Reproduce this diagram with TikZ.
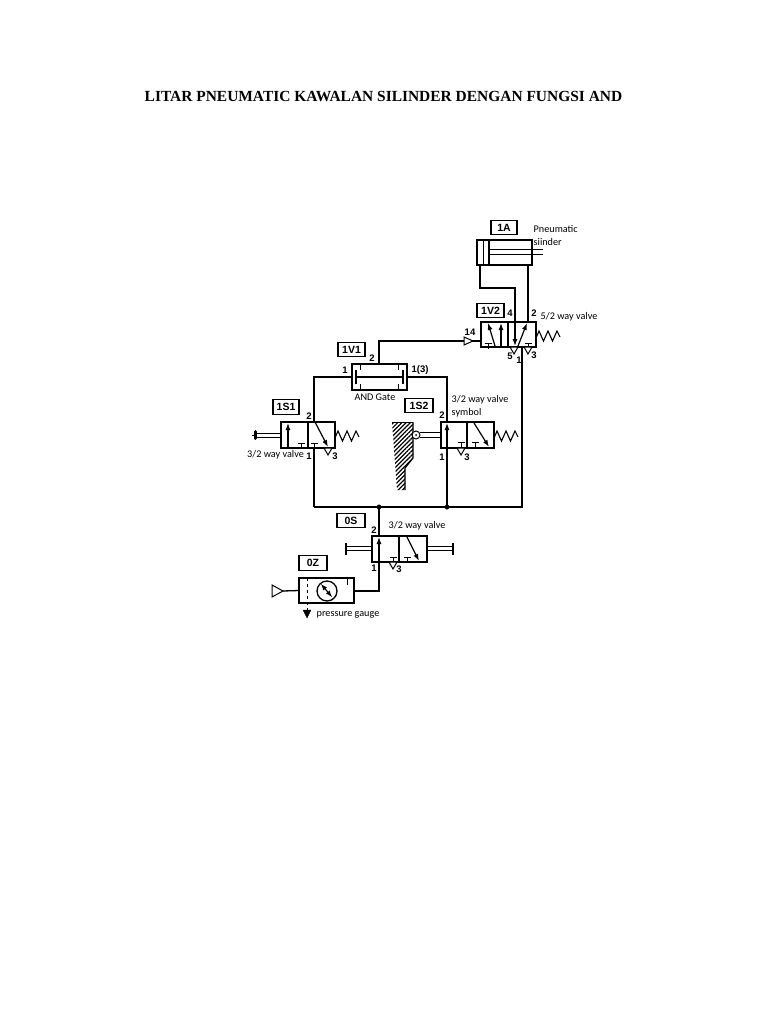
\documentclass[tikz,border=0pt]{standalone}
\usepackage{fontspec}
\setmainfont{Liberation Serif}
\newfontfamily\notefont{Carlito}
\newfontfamily\tagfont{Liberation Sans}
\usetikzlibrary{patterns.meta, arrows.meta}
\tikzset{wire/.style = {draw, line width=1.3pt}}
\tikzset{thinwire/.style = {draw, line width=1pt}}
\tikzset{flow/.style = {draw, line width=1.2pt, -{Latex[length=7pt,width=5pt]}}}
\tikzset{body/.style = {draw, line width=1.3pt, fill=white, inner sep=0pt, outer sep=0pt}}
\tikzset{tag/.style = {draw, line width=1.1pt, inner sep=0pt, minimum height=14.5pt, font=\tagfont\bfseries\fontsize{10.5}{11}\selectfont}}
\tikzset{num/.style = {inner sep=0pt, font=\tagfont\bfseries\fontsize{9.5}{10}\selectfont}}
\tikzset{note/.style = {inner sep=0pt, font=\notefont\fontsize{10.2}{11}\selectfont}}
\tikzset{joint/.style = {draw, circle, fill=black, inner sep=0pt, minimum size=4.5pt}}
\tikzset{tee/.pic = {\draw[line width=1pt] (-3.5,0) -- (3.5,0) (0,0) -- (0,5.5);}}
\tikzset{vent/.pic = {\draw[line width=1pt, fill=white] (-4,0) -- (4,0) -- (0,7) -- cycle;}}
\tikzset{spring/.pic = {\draw[line width=1.1pt] (0,2) -- (3,-5) -- (7.5,5) -- (12,-5) -- (16.5,5) -- (21,-5) -- (24,1);}}

\begin{document}
\begin{tikzpicture}[x=1pt, y=-1pt, >=latex]
  \useasboundingbox[fill=white] (0,0) rectangle (768,1024);
  \node [inner sep=0pt, font=\bfseries\fontsize{15.45}{17}\selectfont] (title) at (383.5,96.5) {LITAR PNEUMATIC KAWALAN SILINDER DENGAN FUNGSI AND};

  % junctions and corners
  \coordinate (cl) at (314,507);
  \coordinate (cr) at (522,507);
  \coordinate (bend) at (480,288);
  \coordinate (cy1) at (480,265);
  \coordinate (cy2) at (528,265);
  \coordinate (p4) at (515,322);
  \coordinate (p2) at (528,322);
  \coordinate (p1) at (522,347);
  \coordinate (p14) at (481,341);
  \coordinate (s1in) at (314,448);
  \coordinate (s1out) at (314,422);
  \coordinate (s2in) at (447,448);
  \coordinate (s0in) at (379,562);
  \coordinate (andtop) at (379,364);
  \coordinate (j1) at (379,507);
  \coordinate (j2) at (447,507);

  % lines
  \draw [wire] (cy1) -- (bend) -| (p4);
  \draw [wire] (cy2) -- (p2);
  \draw [wire] (andtop) |- (p14);
  \draw [wire] (cl) -- (j1) -- (j2) -- (cr) -- (p1);
  \draw [wire] (s1in) -- (cl);
  \draw [wire] (s1out) -- (314,377) -- (352,377);
  \draw [wire] (407,377) -- (447,377) -- (s2in) -- (j2);
  \draw [wire] (j1) -- (s0in) -- (379,591) -- (354,591);
  \node [joint] at (j1) {};
  \node [joint] at (j2) {};

  % cylinder
  \node [body, minimum width=55pt, minimum height=25pt] (cyl) at (504.5,252.5) {};
  \draw [thinwire] (483,240) -- (483,265);
  \draw [wire] (489,240) -- (489,265);
  \draw [wire] (489,249.5) -- (543,249.5);
  \draw [wire] (489,254.5) -- (543,254.5);
  \node [tag, minimum width=26pt] (t1a) at (504,227.5) {1A};
  \node [note, anchor=west] (n1) at (533.5,229) {Pneumatic};
  \node [note, anchor=west] (n2) at (533.5,242) {siinder};

  % 5/2 valve
  \node [body, minimum width=55pt, minimum height=25pt] (v2) at (508.5,334.5) {};
  \draw [wire] (508,322) -- (508,347);
  \draw [flow] (495,346) -- (488,323);
  \draw [flow] (501,346) -- (501,323);
  \draw [flow] (515,322) -- (515,346);
  \draw [flow] (518,346) -- (527,323);
  \pic at (488,343) {tee};
  \pic at (528,343) {tee};
  \pic at (514,347) {vent};
  \pic at (528,347) {vent};
  \draw [wire] (p1) -- (522,352);
  \pic at (536,336) {spring};
  \draw [thinwire, fill=white] (464,337) -- (473,341) -- (464,345) -- cycle;
  \draw [wire] (473,341) -- (481,341);
  \node [tag, minimum width=27pt] (t1v2) at (490.5,310.5) {1V2};
  \node [num] at (510,313.5) {4};
  \node [num] at (534,313) {2};
  \node [num] at (470,332) {14};
  \node [num] at (510,356) {5};
  \node [num] at (534,355) {3};
  \node [num] at (519,360) {1};
  \node [note, anchor=west] (n3) at (540.5,316.5) {5/2 way valve};

  % AND gate
  \node [body, minimum width=55pt, minimum height=26pt] (andg) at (379.5,377) {};
  \draw [wire] (356,370) -- (356,384) (403,370) -- (403,384);
  \draw [wire] (356,377) -- (403,377);
  \draw [thinwire] (360,364) -- (360,370) (360,384) -- (360,390);
  \draw [thinwire] (398,364) -- (398,370) (398,384) -- (398,390);
  \node [tag, minimum width=27pt] (t1v1) at (351.5,349.5) {1V1};
  \node [num] at (372,358) {2};
  \node [num] at (345,370) {1};
  \node [num] at (420,370) {1(3)};
  \node [note] (n4) at (375,397) {AND Gate};

  % valve 1S1
  \node [body, minimum width=54pt, minimum height=26pt] (s1) at (308,435) {};
  \draw [wire] (308,422) -- (308,448);
  \draw [flow] (288,448) -- (288,423);
  \draw [flow] (315,422) -- (328,447);
  \pic at (301,443) {tee};
  \pic at (314,443) {tee};
  \pic at (328,448) {vent};
  \pic at (335,436) {spring};
  \draw [thinwire] (257,433) -- (281,433) (257,437) -- (281,437);
  \draw [line width=3pt, line cap=round] (255,431.5) -- (255,438.5);
  \draw [thinwire] (252,435) -- (257,435);
  \node [tag, minimum width=26pt] (t1s1) at (286,407) {1S1};
  \node [num] at (309,416) {2};
  \node [num] at (309,456) {1};
  \node [num] at (335,456) {3};
  \node [note] (n5) at (275.5,455) {3/2 way valve};

  % cam
  \path [pattern={Lines[angle=45,distance=3pt,line width=1.2pt]}] (392,422) -- (413,422) -- (413,458) -- (405,468) -- (405,490) -- (397,490) -- cycle;
  \draw [wire] (413,422) -- (413,458) -- (405,468) -- (405,490);
  \draw [thinwire] (392,422) -- (413,422);

  % valve 1S2
  \node [body, minimum width=53pt, minimum height=26pt] (s2) at (467.5,435) {};
  \draw [wire] (467,422) -- (467,448);
  \draw [flow] (s2in) -- (447,423);
  \draw [flow] (474,423) -- (489,447);
  \pic at (461,442) {tee};
  \pic at (475,442) {tee};
  \pic at (461,448) {vent};
  \pic at (494,436) {spring};
  \draw [thinwire] (420,432.5) -- (441,432.5) (420,437) -- (441,437);
  \node [draw, circle, line width=1pt, fill=white, inner sep=0pt, minimum size=8pt] (roll) at (416,435) {};
  \node [circle, fill=black, inner sep=0pt, minimum size=2pt] at (roll) {};
  \node [tag, minimum width=28pt] (t1s2) at (419,405.5) {1S2};
  \node [num] at (442,415) {2};
  \node [num] at (442,457) {1};
  \node [num] at (467,457) {3};
  \node [note, anchor=west] (n6) at (451.5,400) {3/2 way valve};
  \node [note, anchor=west] (n7) at (451.5,413) {symbol};

  % valve 0S
  \node [body, minimum width=55pt, minimum height=26pt] (s0) at (399.5,549) {};
  \draw [wire] (399,536) -- (399,562);
  \draw [flow] (s0in) -- (379,537);
  \draw [flow] (407,537) -- (419,561);
  \pic at (393,557) {tee};
  \pic at (407,557) {tee};
  \pic at (393,562) {vent};
  \draw [thinwire] (346,546) -- (372,546) (346,550) -- (372,550);
  \draw [thinwire] (427,546) -- (453,546) (427,550) -- (453,550);
  \draw [wire] (346,543) -- (346,555) (453,543) -- (453,555);
  \node [tag, minimum width=28pt] (t0s) at (351,520.5) {0S};
  \node [num] at (374,530) {2};
  \node [num] at (374,568) {1};
  \node [num] at (399,569) {3};
  \node [note, anchor=west] (n8) at (388.5,526) {3/2 way valve};

  % pressure unit
  \node [body, minimum width=55pt, minimum height=25pt] (fr) at (326.5,590.5) {};
  \draw [thinwire, dashed] (307,578) -- (307,610);
  \draw [thinwire] (347,578) -- (347,585);
  \node [draw, circle, line width=1.3pt, inner sep=0pt, minimum size=20pt] (gauge) at (327,591) {};
  \draw [flow, <->] (321,584) -- (332,597);
  \draw [thinwire, fill=white] (272,585) -- (283,591) -- (272,597) -- cycle;
  \draw [wire] (283,591) -- (fr.west);
  \draw [fill=black] (303,610) -- (311,610) -- (307,618) -- cycle;
  \node [tag, minimum width=28pt] (t0z) at (313,563) {0Z};
  \node [note, anchor=west] (n9) at (316.5,615) {pressure gauge};
\end{tikzpicture}
\end{document}
